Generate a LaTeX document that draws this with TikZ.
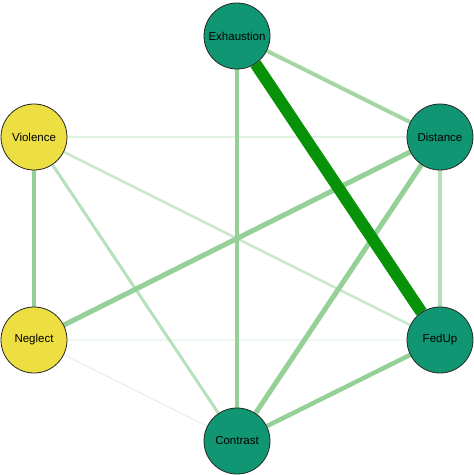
\documentclass[tikz,border=0pt]{standalone}
\usepackage{fontspec}
\setmainfont{Liberation Sans}
\usetikzlibrary{backgrounds}
\definecolor{nodegreen}{RGB}{16,150,114}
\definecolor{nodeyellow}{RGB}{237,222,66}
\definecolor{edgelight}{RGB}{148,208,152}
\definecolor{edgedark}{RGB}{8,146,8}

\begin{document}
\begin{tikzpicture}[
            x=1pt, y=-1pt,
            vertex/.style={draw=black!85, line width=0.8pt, circle, minimum size=66pt, inner sep=0pt, font=\fontsize{11.5}{13}\selectfont},
            greenv/.style={vertex, fill=nodegreen},
            yellowv/.style={vertex, fill=nodeyellow},
            edge/.style={draw=edgelight},
            strongedge/.style={draw=edgedark, line width=12pt}
            ]
            \useasboundingbox (0,0) rectangle (474,475);
            
            % nós
            \node[greenv] (exh) at (237,36) {Exhaustion};
            \node[greenv] (dist) at (440,137) {Distance};
            \node[greenv] (fed) at (440,340) {FedUp};
            \node[greenv] (con) at (237,441) {Contrast};
            \node[yellowv] (neg) at (34,340) {Neglect};
            \node[yellowv] (vio) at (34,137) {Violence};
            
            \begin{scope}[on background layer]
            % arestas fracas
            \path[edge, line width=1.5pt, draw opacity=0.2] (neg) -- (con);
            \path[edge, line width=2pt, draw opacity=0.15] (neg) -- (fed);
            \path[edge, line width=2.5pt, draw opacity=0.3] (vio) -- (dist);
            \path[edge, line width=2.5pt, draw opacity=0.5] (vio) -- (fed);
            \path[edge, line width=3pt, draw opacity=0.65] (vio) -- (con);
            \path[edge, line width=3.5pt, draw opacity=0.7] (dist) -- (fed);
            
            % arestas médias
            \path[edge, line width=4pt, draw opacity=0.85] (exh) -- (dist);
            \path[edge, line width=4pt] (exh) -- (con);
            \path[edge, line width=4pt] (vio) -- (neg);
            \path[edge, line width=5pt] (dist) -- (neg);
            \path[edge, line width=5pt] (dist) -- (con);
            \path[edge, line width=4.5pt] (fed) -- (con);
            
            % aresta forte
            \path[strongedge] (exh) -- (fed);
            \end{scope}
            
        \end{tikzpicture}
\end{document}
